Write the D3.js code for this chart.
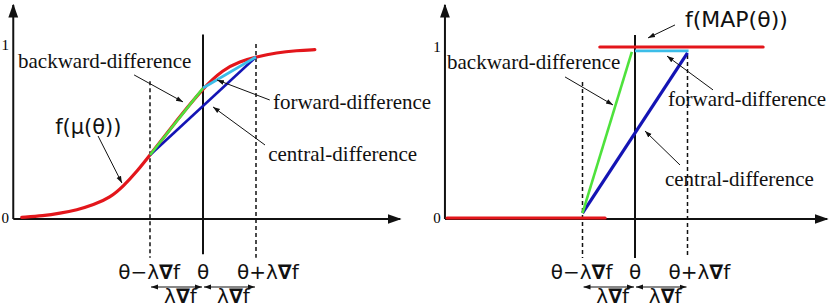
<!DOCTYPE html>
<html>
<head>
<meta charset="utf-8">
<script src="https://cdn.jsdelivr.net/npm/d3@7"></script>
<style>
  body { margin: 0; background: #fff; }
  svg { display: block; }
  .serif { font-family: "Liberation Serif", "Times New Roman", serif; }
  .sans { font-family: "DejaVu Sans", sans-serif; }
</style>
</head>
<body>
<div id="chart"></div>
<script>
// values; x in units of λ∇f around θ, y in [0,1]
const guideX = [-1, 0, 1];
const tickLabels = ["θ−λ∇f", "θ", "θ+λ∇f"];
const spanLabel = ["λ", "∇", "f"];
const yTicks = [0, 1];

// left panel: smooth f(μ(θ))
const muCurve = [
  [-3.42, 0.004], [-3.01, 0.013], [-2.70, 0.027], [-2.38, 0.046],
  [-2.07, 0.075], [-1.75, 0.118], [-1.50, 0.185], [-1.25, 0.268],
  [-1.0, 0.364], [-0.49, 0.566], [0, 0.751], [0.38, 0.858],
  [0.70, 0.905], [1.0, 0.931], [1.39, 0.956], [1.77, 0.968], [2.11, 0.973]
];
const muBackward = [[-1, 0.364], [0, 0.751]];
const muForward = [[0, 0.751], [1, 0.931]];
const muCentral = [[-1, 0.364], [1, 0.931]];
const muGuideTop = [0.79, 1.06, 1.006];
const muGuideBottom = [-0.23, -0.21, -0.23];

// right panel: step f(MAP(θ))
const mapLow = [[-3.58, 0], [-0.57, 0]];
const mapHigh = [[-0.67, 1], [2.44, 1]];
const mapBackward = [[-1, 0.029], [-0.06, 0.971]];
const mapForward = [[0, 0.977], [1.02, 0.977]];
const mapCentral = [[-1, 0.029], [1.0, 0.965]];
const mapGuideTop = [0.795, 1.07, 0.953];
const mapGuideBottom = [-0.234, -0.234, -0.234];

// annotations: label, font, size, text start [x,y], arrow from, arrow to
const muNotes = [
  ["f(μ(θ))", "sans", 21, [-2.79, 0.486], [-1.98, 0.474], [-1.53, 0.202]],
  ["backward-difference", "serif", 21, [-3.49, 0.867], [-1.30, 0.827], [-0.377, 0.671]],
  ["forward-difference", "serif", 21, [1.32, 0.630], [1.26, 0.682], [0.264, 0.798]],
  ["central-difference", "serif", 21, [1.23, 0.329], [1.17, 0.422], [0.189, 0.642]]
];
const mapNotes = [
  ["f(MAP(θ))", "sans", 22, [0.952, 1.117], [0.762, 1.129], [0.248, 1.053]],
  ["backward-difference", "serif", 21, [-3.58, 0.871], [-1.333, 0.825], [-0.419, 0.661]],
  ["forward-difference", "serif", 21, [0.629, 0.655], [1.486, 0.749], [0.610, 0.947]],
  ["central-difference", "serif", 21, [0.571, 0.187], [0.857, 0.310], [0.190, 0.509]]
];

const colors = { f: "#e3161b", back: "#4ee23c", fwd: "#3cbde8", cent: "#1414b4" };

const width = 834, height = 308;
const svg = d3.select("#chart").append("svg")
    .attr("width", width).attr("height", height);

const defs = svg.append("defs");
defs.append("marker").attr("id", "head")
    .attr("viewBox", "0 0 10 10").attr("refX", 10).attr("refY", 5)
    .attr("markerWidth", 7).attr("markerHeight", 7).attr("orient", "auto-start-reverse")
    .attr("markerUnits", "userSpaceOnUse")
  .append("path").attr("d", "M0,1.5L10,5L0,8.5Z").attr("fill", "#111");
defs.append("marker").attr("id", "axisHead")
    .attr("viewBox", "0 0 10 10").attr("refX", 9).attr("refY", 5)
    .attr("markerWidth", 14).attr("markerHeight", 14).attr("orient", "auto")
    .attr("markerUnits", "userSpaceOnUse")
  .append("path").attr("d", "M0,1.5L10,5L0,8.5Z").attr("fill", "#111");

function drawPanel(p) {
  const x = d3.scaleLinear().domain([-1, 1]).range(p.xRange);
  const y = d3.scaleLinear().domain([0, 1]).range(p.yRange);
  const g = svg.append("g");
  const line = d3.line().x(d => x(d[0])).y(d => y(d[1]));

  // axes
  g.append("line")
      .attr("x1", x(p.axisX)).attr("x2", x(p.axisX))
      .attr("y1", y(0) + 1).attr("y2", 5)
      .attr("stroke", "#111").attr("stroke-width", 2)
      .attr("marker-end", "url(#axisHead)");
  g.append("line")
      .attr("x1", x(p.axisX)).attr("x2", x(p.axisEnd))
      .attr("y1", y(0) + 1).attr("y2", y(0) + 1)
      .attr("stroke", "#111").attr("stroke-width", 2)
      .attr("marker-end", "url(#axisHead)");
  g.selectAll(".ytick").data(yTicks).join("text")
      .attr("class", "serif")
      .attr("x", x(p.axisX) - 8).attr("y", d => y(d) + 5)
      .attr("text-anchor", "middle").attr("font-size", 15)
      .text(d => d);

  // guides at θ−λ∇f, θ, θ+λ∇f
  g.selectAll(".guide").data(guideX).join("line")
      .attr("x1", d => x(d)).attr("x2", d => x(d))
      .attr("y1", (d, i) => y(p.guideTop[i]))
      .attr("y2", (d, i) => y(p.guideBottom[i]))
      .attr("stroke", "#111")
      .attr("stroke-width", d => d === 0 ? 2 : 1.5)
      .attr("stroke-dasharray", d => d === 0 ? null : "4,3");

  // function
  const fLine = d3.line().x(d => x(d[0])).y(d => y(d[1]))
      .curve(p.smooth ? d3.curveBasis : d3.curveLinear);
  p.curves.forEach(c => {
    g.append("path").attr("d", fLine(c))
        .attr("fill", "none").attr("stroke", colors.f)
        .attr("stroke-width", 3.2).attr("stroke-linecap", "round");
  });

  // difference lines
  [[p.central, colors.cent, p.centW], [p.backward, colors.back, 2.6], [p.forward, colors.fwd, 2.8]]
    .forEach(([d, c, w]) => {
      g.append("path").attr("d", line(d))
          .attr("fill", "none").attr("stroke", c).attr("stroke-width", w);
    });

  // annotations
  p.notes.forEach(([label, font, size, pos, from, to]) => {
    g.append("text").attr("class", font)
        .attr("x", x(pos[0])).attr("y", y(pos[1]))
        .attr("font-size", size)
        .attr("fill", "#111")
        .text(label);
    g.append("line")
        .attr("x1", x(from[0])).attr("y1", y(from[1]))
        .attr("x2", x(to[0])).attr("y2", y(to[1]))
        .attr("stroke", "#111").attr("stroke-width", 1)
        .attr("marker-end", "url(#head)");
  });

  // bottom labels
  const base = y(0);
  const anchors = ["end", "middle", "start"];
  const shift = [30, 0, -19];
  g.selectAll(".tlab").data(tickLabels).join("text")
      .attr("class", "sans").attr("font-size", 20).attr("fill", "#111")
      .attr("x", (d, i) => x(guideX[i]) + shift[i])
      .attr("y", base + 61)
      .attr("text-anchor", (d, i) => anchors[i])
      .each(function(d) {
        const t = d3.select(this);
        d.split("∇").forEach((part, k) => {
          if (k > 0) t.append("tspan").attr("font-weight", "bold").text("∇");
          t.append("tspan").text(part);
        });
      });

  // spans of λ∇f
  d3.pairs(guideX).forEach(([a, b]) => {
    g.append("line")
        .attr("x1", x(a) + 1).attr("x2", x(b) - 1)
        .attr("y1", base + 69).attr("y2", base + 69)
        .attr("stroke", "#111").attr("stroke-width", 1)
        .attr("marker-start", "url(#head)").attr("marker-end", "url(#head)");
    const t = g.append("text").attr("class", "sans").attr("font-size", 20)
        .attr("fill", "#111").attr("text-anchor", "middle")
        .attr("x", (x(a) + x(b)) / 2 + 4).attr("y", base + 85);
    spanLabel.forEach(s => t.append("tspan")
        .attr("font-weight", s === "∇" ? "bold" : null).text(s));
  });
}

drawPanel({
  xRange: [150, 256], yRange: [218, 45], axisX: -3.58, axisEnd: 3.72,
  guideTop: muGuideTop, guideBottom: muGuideBottom,
  curves: [muCurve], smooth: true,
  backward: muBackward, forward: muForward, central: muCentral, centW: 2.6,
  notes: muNotes
});
drawPanel({
  xRange: [582.5, 687.5], yRange: [218, 47], axisX: -3.62, axisEnd: 3.66,
  guideTop: mapGuideTop, guideBottom: mapGuideBottom,
  curves: [mapLow, mapHigh], smooth: false,
  backward: mapBackward, forward: mapForward, central: mapCentral, centW: 3.2,
  notes: mapNotes
});
</script>
</body>
</html>
